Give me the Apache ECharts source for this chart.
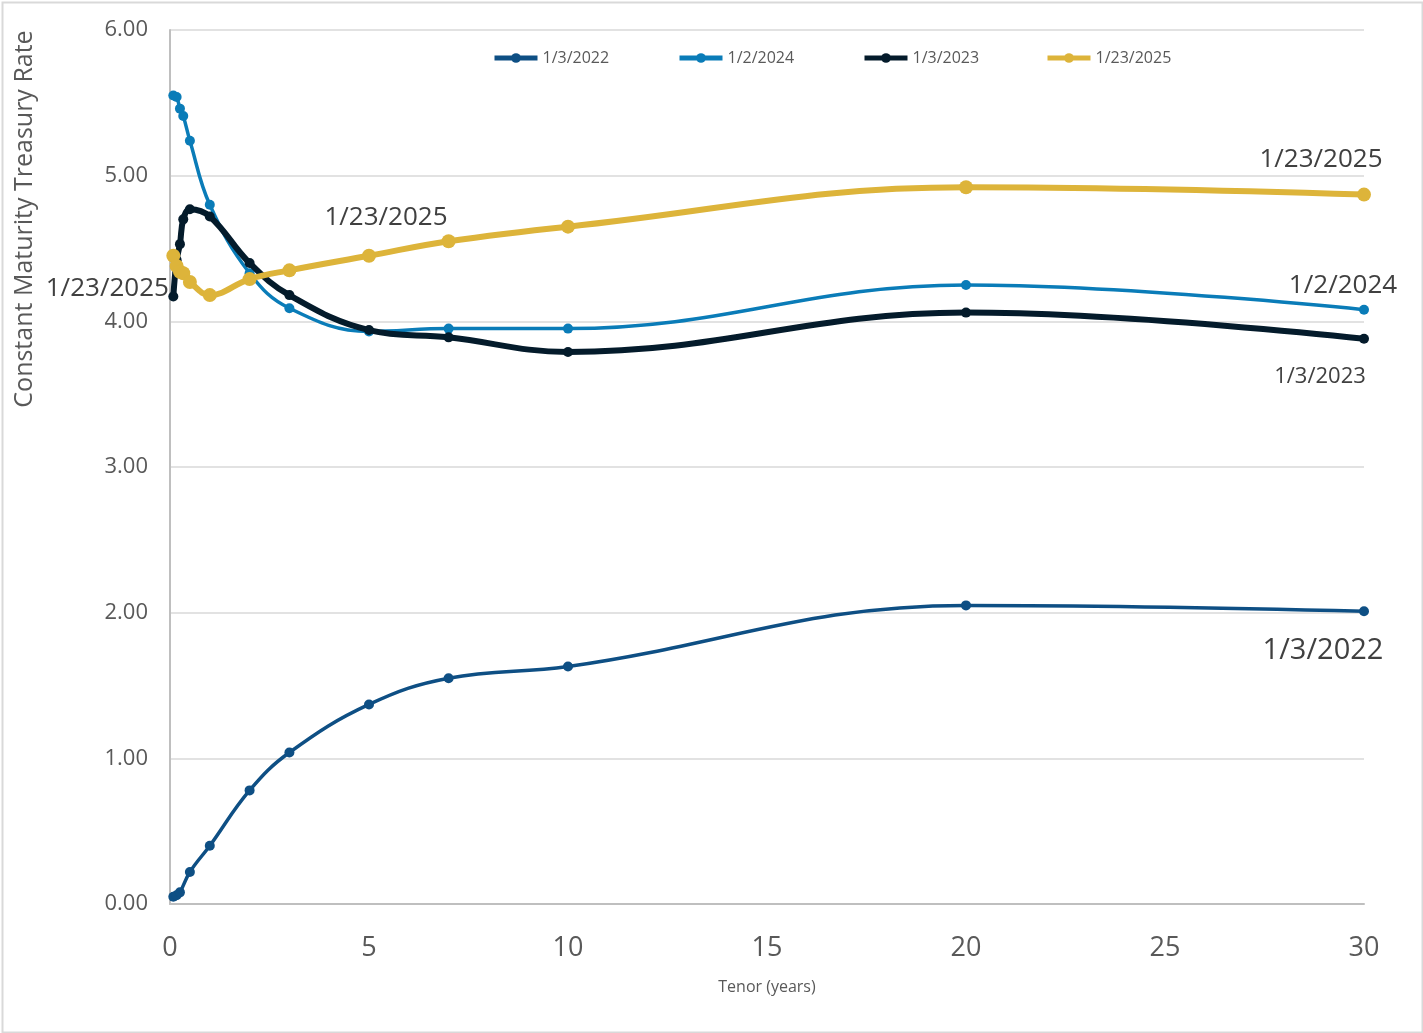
<!DOCTYPE html>
<html>
<head>
<meta charset="utf-8">
<style>
html,body{margin:0;padding:0;background:#fff;}
#chart{width:1423px;height:1033px;}
</style>
<script src="https://cdn.jsdelivr.net/npm/echarts@6/dist/echarts.min.js"></script>
</head>
<body>
<div id="chart"></div>
<script>
// Tenors in years: 1M, 2M, 3M, 4M, 6M, 1Y, 2Y, 3Y, 5Y, 7Y, 10Y, 20Y, 30Y
var tenors = [1/12, 2/12, 3/12, 4/12, 6/12, 1, 2, 3, 5, 7, 10, 20, 30];
var seriesNames = ['1/3/2022', '1/2/2024', '1/3/2023', '1/23/2025'];
var r2022 = [0.05, 0.06, 0.08, null, 0.22, 0.40, 0.78, 1.04, 1.37, 1.55, 1.63, 2.05, 2.01];
var r2024 = [5.55, 5.54, 5.46, 5.41, 5.24, 4.80, 4.33, 4.09, 3.93, 3.95, 3.95, 4.25, 4.08];
var r2023 = [4.17, 4.42, 4.53, 4.70, 4.77, 4.72, 4.40, 4.18, 3.94, 3.89, 3.79, 4.06, 3.88];
var r2025 = [4.45, 4.38, 4.34, 4.33, 4.27, 4.18, 4.29, 4.35, 4.45, 4.55, 4.65, 4.92, 4.87];
var xTicks = [0, 5, 10, 15, 20, 25, 30];

var FONT = 'Open Sans';
var labelColor = '#404040';

// point annotations: series index -> { dataIndex: [offsetX, offsetY, fontSize] }
var annotations = {
  0: {12: [-41, 40, 29]},
  1: {12: [-21, -24, 26]},
  2: {12: [-44, 38, 22]},
  3: {0: [-66, 33, 26], 8: [17, -38, 26], 12: [-43, -35, 26]}
};

function buildData(values, sIdx) {
  var out = [];
  for (var i = 0; i < tenors.length; i++) {
    var item = {value: [tenors[i], values[i]]};
    var a = annotations[sIdx] && annotations[sIdx][i];
    if (a) {
      item.label = {
        show: true, position: 'inside', offset: [a[0], a[1]],
        formatter: seriesNames[sIdx], fontSize: a[2], color: labelColor,
        fontFamily: FONT, align: 'center', verticalAlign: 'middle'
      };
    }
    out.push(item);
  }
  return out;
}

var colors = ['#0E4F84', '#0A7CB8', '#041B2B', '#DDB43A'];
var widths = [3.5, 3.5, 6, 6];
var sizes = [10, 10, 10, 14];
var allValues = [r2022, r2024, r2023, r2025];
var z = [3, 4, 5, 6];

var series = allValues.map(function (vals, k) {
  return {
    name: seriesNames[k], type: 'line', smooth: 0.4, connectNulls: true,
    data: buildData(vals, k), symbol: 'circle', symbolSize: sizes[k],
    lineStyle: {color: colors[k], width: widths[k]},
    itemStyle: {color: colors[k]}, z: z[k],
    label: {show: false}, emphasis: {disabled: true}
  };
});

var legendX = [487, 672, 857, 1040];
var legends = seriesNames.map(function (n, k) {
  return {
    data: [n], left: legendX[k], top: 45, itemWidth: 43, itemHeight: 12,
    itemGap: 3,
    lineStyle: {width: 5},
    textStyle: {fontFamily: 'Open Sans', fontSize: 16, color: '#595959'},
    selectedMode: false
  };
});

var chart = echarts.init(document.getElementById('chart'));
chart.setOption({
  animation: false,
  backgroundColor: '#fff',
  grid: {left: 170, right: 59, top: 30, bottom: 129, containLabel: false},
  legend: legends,
  xAxis: {
    type: 'value', min: 0, max: 30, interval: 5,
    name: 'Tenor (years)', nameLocation: 'middle', nameGap: 75,
    nameTextStyle: {fontFamily: FONT, fontSize: 16, color: '#595959'},
    axisLine: {show: true, lineStyle: {color: '#bfbfbf', width: 2}},
    axisTick: {show: false},
    splitLine: {show: false},
    axisLabel: {fontFamily: FONT, fontSize: 27, color: '#595959', margin: 31,
      formatter: function (v) { return xTicks.indexOf(v) >= 0 ? String(v) : ''; }}
  },
  yAxis: {
    type: 'value', min: 0, max: 6, interval: 1,
    axisLine: {show: true, lineStyle: {color: '#bfbfbf', width: 2}},
    axisTick: {show: false},
    splitLine: {show: true, lineStyle: {color: '#d9d9d9', width: 1.5}},
    axisLabel: {fontFamily: FONT, fontSize: 22, color: '#595959', margin: 22,
      formatter: function (v) { return v.toFixed(2); }}
  },
  graphic: [
    {type: 'rect', left: 0, top: 0, silent: true, z: -1,
      shape: {x: 1, y: 1, width: 1420, height: 1030},
      style: {fill: 'none', stroke: '#d9d9d9', lineWidth: 2}},
    {type: 'text', x: 25, y: 219, rotation: Math.PI / 2, silent: true,
      style: {text: 'Constant Maturity Treasury Rate', fontFamily: FONT, fontSize: 25,
        fill: '#595959', align: 'center', verticalAlign: 'middle'}}
  ],
  series: series
});
</script>
</body>
</html>
